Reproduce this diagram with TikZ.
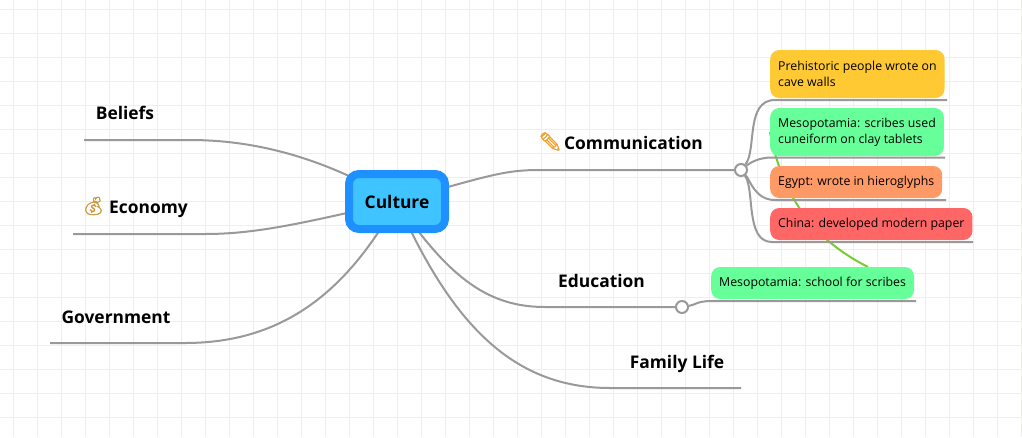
\documentclass[tikz,border=0pt]{standalone}
\usepackage{fontspec}
\setmainfont{Open Sans}
\newfontfamily\emojifont[FakeBold=1.5]{Noto Emoji}
\usetikzlibrary{backgrounds}
\definecolor{gridline}{HTML}{EEF0E6}
\definecolor{branchgray}{HTML}{999999}
\definecolor{rootblue}{HTML}{1E90FF}
\definecolor{rootfill}{HTML}{40C4FF}
\definecolor{cardyellow}{HTML}{FFC933}
\definecolor{cardgreen}{HTML}{66FF99}
\definecolor{cardorange}{HTML}{FF9966}
\definecolor{cardred}{HTML}{FF6666}
\definecolor{linkgreen}{HTML}{77CC33}
\definecolor{pencilcolor}{HTML}{F0A030}
\definecolor{bagcolor}{HTML}{C8963C}
\tikzset{
	rootbox/.style={draw=rootblue,fill=rootfill,line width=8pt,rounded corners=10pt,minimum width=96pt,minimum height=55pt,font=\fontsize{17.4}{22}\selectfont\bfseries},
	topic/.style={font=\fontsize{17.4}{22}\selectfont\bfseries,inner sep=0pt},
	card/.style={anchor=west,rounded corners=9pt,inner xsep=8pt,inner ysep=0pt,align=left,font=\fontsize{12.3}{16}\selectfont},
	branch/.style={draw=branchgray,line width=2pt},
	hub/.style={circle,draw=branchgray,fill=white,line width=2pt,minimum size=12pt,inner sep=0pt},
	gridstroke/.style={draw=gridline,line width=1pt},
	icon/.style={inner sep=0pt,font=\emojifont\fontsize{18}{20}\selectfont}
}
\begin{document}
\begin{tikzpicture}[x=1pt,y=-1pt]
	\useasboundingbox (0,0) rectangle (1022,437);
	%The root
	\node [rootbox] (culture) at (397,201.5) {Culture};
	%Main topics
	\node [topic] (beliefs) at (125,113) {Beliefs};
	\node [topic] (economy) at (148.5,209) {Economy};
	\node [topic] (government) at (116,317.5) {Government};
	\node [topic] (communication) at (633.5,143) {Communication};
	\node [topic] (education) at (601.5,281) {Education};
	\node [topic] (familylife) at (677,364) {Family Life};
	%The icons
	\node [icon,text=pencilcolor] (pencil) at (550,141.5) {\symbol{"270F}};
	\node [icon,text=bagcolor] (moneybag) at (93.5,206) {\symbol{"1F4B0}};
	%The cards
	\node [card,fill=cardyellow,minimum height=48pt] (prehistoric) at (770,74) {Prehistoric people wrote on\\cave walls};
	\node [card,fill=cardgreen,minimum height=48pt] (scribes) at (770,132) {Mesopotamia: scribes used\\cuneiform on clay tablets};
	\node [card,fill=cardorange,minimum height=32pt] (egypt) at (770,182) {Egypt: wrote in hieroglyphs};
	\node [card,fill=cardred,minimum height=32pt] (china) at (770,224) {China: developed modern paper};
	\node [card,fill=cardgreen,minimum height=32pt] (school) at (711,283) {Mesopotamia: school for scribes};
	%The small circles
	\node [hub] (commhub) at (741,170) {};
	\node [hub] (eduhub) at (682,307) {};
	%Free ends of the lines
	\coordinate (beliefsEnd) at (84,140);
	\coordinate (economyEnd) at (73,234);
	\coordinate (governmentEnd) at (50,343);
	\coordinate (familyEnd) at (741,388);
	\coordinate (prehistoricEnd) at (947,100);
	\coordinate (scribesEnd) at (945,157.5);
	\coordinate (egyptEnd) at (946,200);
	\coordinate (chinaEnd) at (973,242);
	\coordinate (schoolEnd) at (916,301);
	\coordinate (schoolLink) at (868,267);
	\begin{scope}[on background layer]
		%Grid lines
		\foreach \i in {0,...,42} {
			\draw [gridstroke] (13.5+24*\i,0) -- (13.5+24*\i,437);
		}
		\foreach \i in {0,...,18} {
			\draw [gridstroke] (0,9+24*\i) -- (1022,9+24*\i);
		}
		%The green link
		\draw [draw=linkgreen,line width=2pt] (schoolLink) .. controls (825,245) and (785,210) .. (scribes.west);
		%Lines on the left
		\draw [branch] (beliefsEnd) -- (190,140) .. controls (250,140) and (320,155) .. (culture.center);
		\draw [branch] (economyEnd) -- (205,234) .. controls (255,234) and (300,224) .. (culture.center);
		\draw [branch] (governmentEnd) -- (185,343) .. controls (280,343) and (345,295) .. (culture.center);
		%Lines on the right
		\draw [branch] (culture.center) .. controls (490,175) and (505,170) .. (540,170) -- (commhub);
		\draw [branch] (culture.center) .. controls (450,280) and (490,307) .. (545,307) -- (eduhub);
		\draw [branch] (culture.center) .. controls (450,320) and (510,388) .. (610,388) -- (familyEnd);
		%Lines from the hubs
		\draw [branch] (commhub) .. controls (757,150) and (745,100) .. (775,100) -- (prehistoricEnd);
		\draw [branch] (commhub) .. controls (750,163) and (758,157.5) .. (772,157.5) -- (scribesEnd);
		\draw [branch] (commhub) .. controls (750,180) and (755,200) .. (775,200) -- (egyptEnd);
		\draw [branch] (commhub) .. controls (755,190) and (745,242) .. (772,242) -- (chinaEnd);
		\draw [branch] (eduhub) .. controls (695,305) and (697,301) .. (712,301) -- (schoolEnd);
	\end{scope}
\end{tikzpicture}
\end{document}
